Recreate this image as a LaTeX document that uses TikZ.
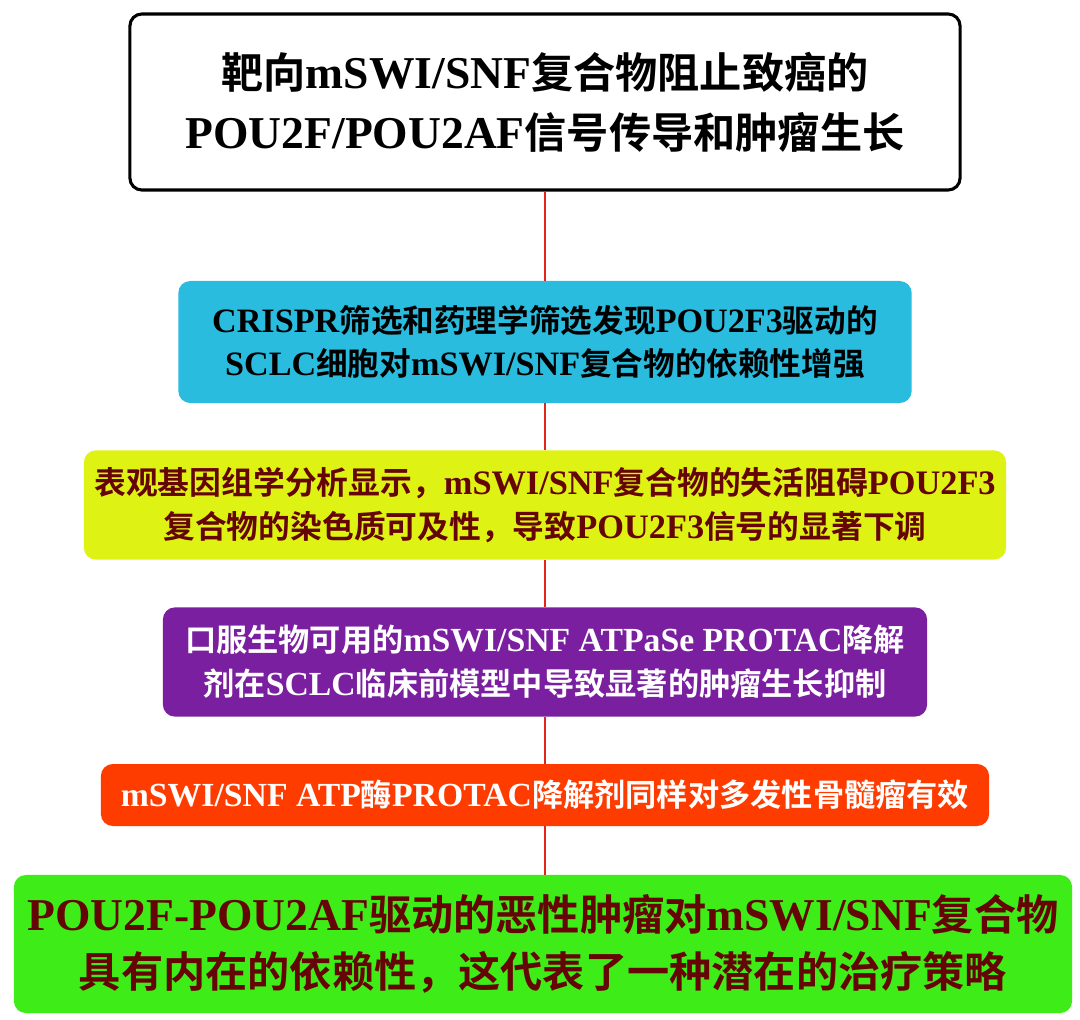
\documentclass[tikz,border=0pt]{standalone}
\usepackage{fontspec}
\setmainfont{Noto Sans CJK SC}[BoldFont={Noto Sans CJK SC Bold}]
\newfontfamily\latfont{Liberation Serif}[Scale=1.08]
\newcommand\lat[1]{{\latfont\bfseries #1}}
\usetikzlibrary{positioning}

\definecolor{cyanbox}{HTML}{2ABCDE}
\definecolor{limebox}{HTML}{DEF214}
\definecolor{purplebox}{HTML}{7A1F9F}
\definecolor{orangebox}{HTML}{FF3C00}
\definecolor{greenbox}{HTML}{3EEC17}
\definecolor{linkred}{HTML}{E0261B}
\definecolor{textred}{HTML}{650505}

\tikzset{
  stage/.style={rectangle, rounded corners=0.3cm, align=center, inner sep=0pt},
  link/.style={linkred, line width=1.5pt}
}

\begin{document}
\begin{tikzpicture}[x=0.025cm,y=-0.025cm]
	\useasboundingbox (0,0) rectangle (1080,1020);
	\node[stage, fill=cyanbox, minimum width=18.33cm, minimum height=3.05cm,
		font=\fontsize{22.5}{30}\selectfont\bfseries, text=black] (screen) at (545,342)
		{\lat{CRISPR}筛选和药理学筛选发现\lat{POU2F3}驱动的\\ \lat{SCLC}细胞对\lat{mSWI/SNF}复合物的依赖性增强};
	\node[stage, fill=limebox, minimum width=23.05cm, minimum height=2.73cm,
		font=\fontsize{22.6}{31.3}\selectfont\bfseries, text=textred] (epi) at (545,505)
		{表观基因组学分析显示，\lat{mSWI/SNF}复合物的失活阻碍\lat{POU2F3}\\ 复合物的染色质可及性，导致\lat{POU2F3}信号的显著下调};
	\node[stage, fill=purplebox, minimum width=19.1cm, minimum height=2.73cm,
		font=\fontsize{22.2}{31.3}\selectfont\bfseries, text=white] (protac) at (545,662)
		{口服生物可用的\lat{mSWI/SNF ATPaSe PROTAC}降解\\ 剂在\lat{SCLC}临床前模型中导致显著的肿瘤生长抑制};
	\node[stage, fill=orangebox, minimum width=22.2cm, minimum height=1.55cm,
		font=\fontsize{22.2}{31.3}\selectfont\bfseries, text=white] (myeloma) at (545,795)
		{\lat{mSWI/SNF ATP}酶\lat{PROTAC}降解剂同样对多发性骨髓瘤有效};
	\node[stage, fill=greenbox, minimum width=26.45cm, minimum height=3.45cm,
		font=\fontsize{30}{40.5}\selectfont\bfseries, text=textred] (concl) at (543,944)
		{\lat{POU2F-POU2AF}驱动的恶性肿瘤对\lat{mSWI/SNF}复合物\\ 具有内在的依赖性，这代表了一种潜在的治疗策略};
	\node[stage, draw=black, line width=2.2pt, fill=white, minimum width=20.75cm, minimum height=4.4cm,
		font=\fontsize{30}{42.7}\selectfont\bfseries, text=black] (title) at (545,102)
		{靶向\lat{mSWI/SNF}复合物阻止致癌的\\ \lat{POU2F/POU2AF}信号传导和肿瘤生长};
	
	\draw[link] (title.south) -- (screen.north);
	\draw[link] (screen.south) -- (epi.north);
	\draw[link] (epi.south) -- (protac.north);
	\draw[link] (protac.south) -- (myeloma.north);
	\draw[link] (myeloma.south) -- (myeloma.south |- concl.north);
\end{tikzpicture}
\end{document}
